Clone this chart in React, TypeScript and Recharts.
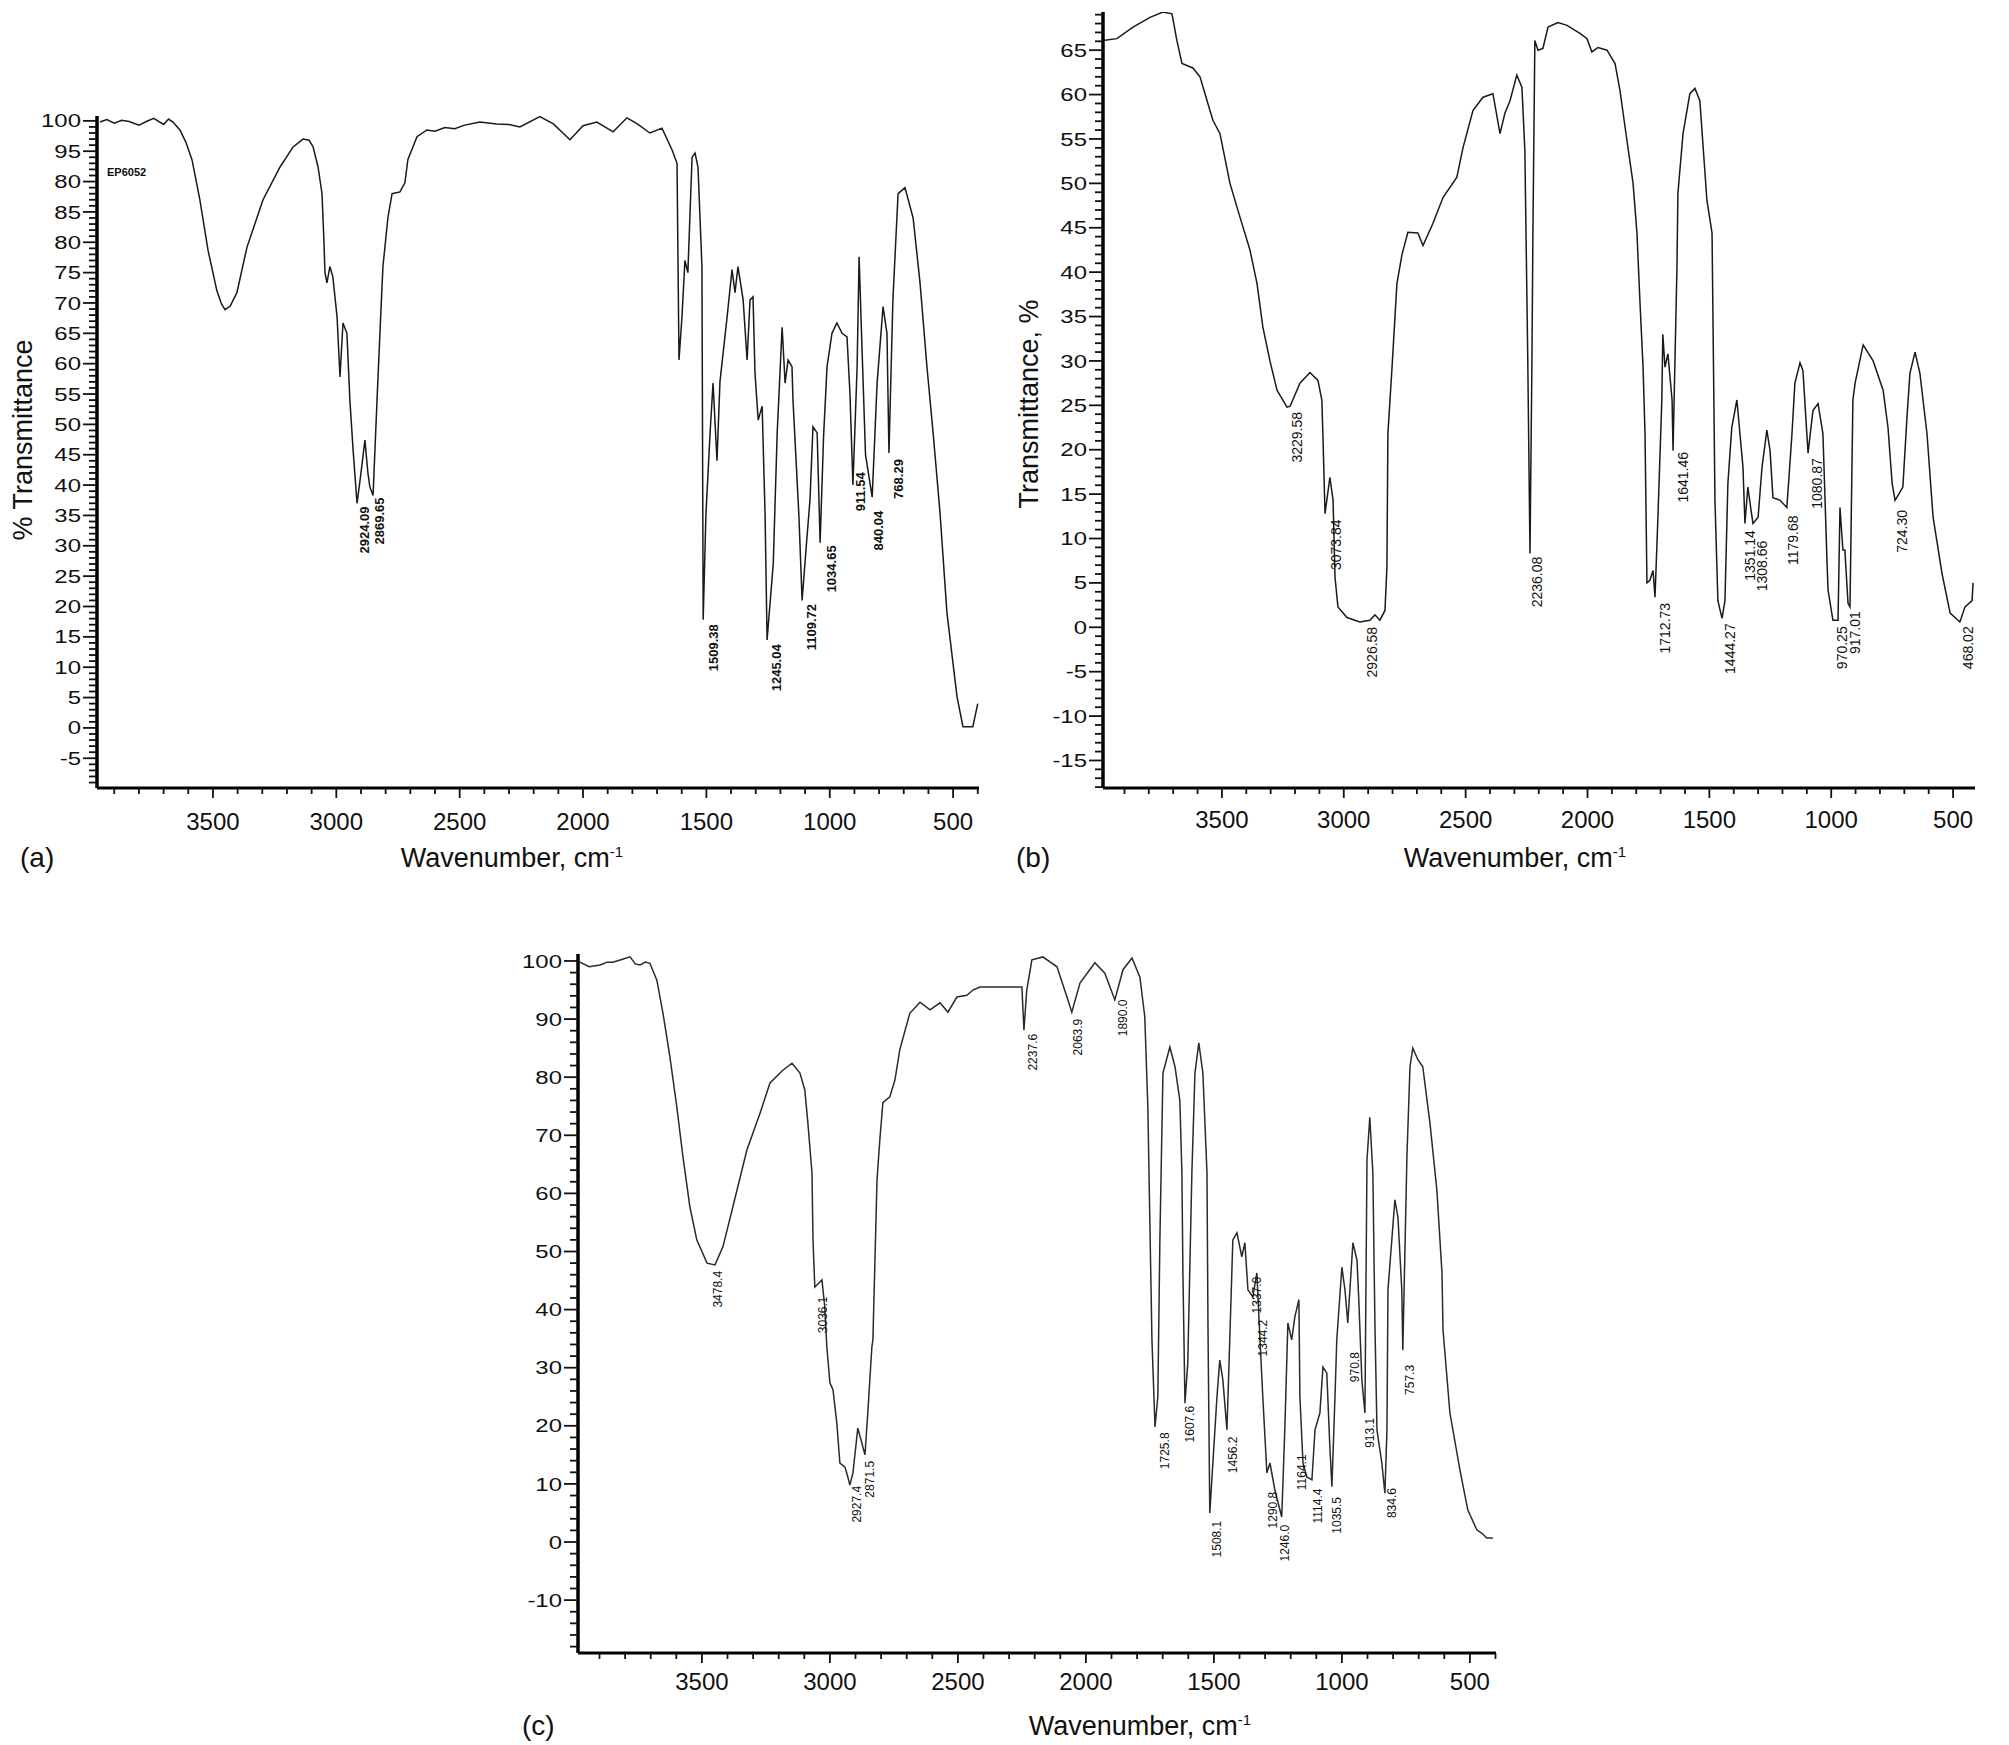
import { LineChart, Line, XAxis, YAxis, ReferenceDot } from "recharts"

const FONT = '"Liberation Sans", Arial, Helvetica, sans-serif'

type Pt = [number, number]
type Peak = { w: number; t: number; text: string }

// ---- panel (a) : wavenumber, % transmittance ----
const spectrumA: Pt[] = [
  [3958, 99.8], [3930, 100.2], [3900, 99.6], [3870, 100.1], [3840, 99.9], [3800, 99.3], [3770, 99.9],
  [3740, 100.4], [3700, 99.4], [3680, 100.3], [3662, 99.8], [3634, 98.5], [3610, 96.5], [3585, 93.6],
  [3553, 87], [3520, 78.7], [3484, 72], [3465, 69.8], [3451, 68.9], [3430, 69.5], [3403, 71.7],
  [3362, 79.2], [3297, 87], [3228, 92.4], [3175, 95.7], [3135, 97], [3110, 96.8], [3094, 95.7],
  [3074, 92.4], [3058, 88], [3050, 80], [3046, 75], [3038, 73.3], [3026, 76], [3014, 74.3],
  [2997, 67.7], [2985, 57.8], [2973, 66.7], [2957, 65], [2945, 54], [2932, 45.8], [2916, 37],
  [2900, 42], [2884, 47.4], [2872, 42], [2864, 39.7], [2851, 38.3], [2835, 54], [2820, 68],
  [2811, 76], [2791, 84], [2774, 88], [2742, 88.3], [2722, 89.8], [2710, 93.6], [2673, 97.4],
  [2633, 98.5], [2600, 98.3], [2560, 98.9], [2520, 98.7], [2480, 99.3], [2418, 99.8], [2350, 99.5],
  [2300, 99.4], [2256, 99], [2175, 100.7], [2120, 99.5], [2053, 96.9], [2000, 99.2], [1944, 99.8],
  [1878, 98.2], [1822, 100.5], [1780, 99.5], [1729, 98], [1680, 98.8], [1639, 95.2], [1619, 93],
  [1611, 60.6], [1599, 67.7], [1587, 77], [1575, 75], [1558, 94], [1546, 94.7], [1534, 92.4],
  [1518, 76], [1513, 17.8], [1502, 35], [1485, 48.6], [1473, 56.8], [1457, 44], [1445, 57],
  [1416, 67.7], [1396, 75.5], [1384, 71.7], [1372, 76], [1351, 70.5], [1335, 60.6], [1323, 70.5],
  [1311, 71], [1303, 58.5], [1290, 50.7], [1274, 53], [1262, 35], [1254, 14.5], [1229, 27],
  [1213, 48.6], [1193, 66], [1181, 56.8], [1169, 60.6], [1153, 59.5], [1149, 54], [1125, 35],
  [1112, 21], [1095, 30], [1080, 37.6], [1068, 49.6], [1051, 48.6], [1039, 30.5], [1025, 48],
  [1011, 59.5], [991, 65], [971, 66.7], [950, 65], [930, 64.4], [918, 55], [906, 40], [889, 59.5],
  [881, 77.6], [869, 62.3], [855, 45], [828, 38], [808, 56.8], [784, 69.4], [768, 65], [760, 45.3],
  [744, 70.5], [723, 88], [695, 89], [662, 84], [634, 73.3], [606, 59.5], [581, 48.6], [553, 35.4],
  [525, 19], [484, 5.1], [460, 0.2], [420, 0.2], [400, 4],
]

const peaksA: Peak[] = [
  { w: 2884, t: 32.6, text: "2924.09" },
  { w: 2823, t: 34.1, text: "2869.65" },
  { w: 1473, t: 13.2, text: "1509.38" },
  { w: 1214, t: 9.9, text: "1245.04" },
  { w: 1072, t: 16.6, text: "1109.72" },
  { w: 991, t: 26.2, text: "1034.65" },
  { w: 877, t: 38.9, text: "911.54" },
  { w: 804, t: 32.5, text: "840.04" },
  { w: 723, t: 41, text: "768.29" },
]

// y labels of panel (a) as printed (the third one reads "80")
const yMajorA = [100, 95, 90, 85, 80, 75, 70, 65, 60, 55, 50, 45, 40, 35, 30, 25, 20, 15, 10, 5, 0, -5]
const yTextA = ["100", "95", "80", "85", "80", "75", "70", "65", "60", "55", "50", "45", "40", "35", "30", "25", "20", "15", "10", "5", "0", "-5"]

// ---- panel (b) ----
const spectrumB: Pt[] = [
  [3988, 66.1], [3931, 66.3], [3865, 67.6], [3795, 68.7], [3742, 69.3], [3705, 69.1], [3685, 66.1],
  [3664, 63.5], [3619, 63], [3590, 62], [3561, 59.3], [3537, 57.1], [3508, 55.6], [3467, 50],
  [3426, 46.2], [3385, 42.5], [3356, 38.7], [3332, 33.8], [3303, 30], [3274, 26.7], [3233, 24.8],
  [3220, 24.9], [3180, 27.5], [3139, 28.7], [3106, 27.8], [3090, 25.6], [3085, 21], [3077, 12.8],
  [3057, 16.9], [3044, 14.3], [3036, 5.6], [3024, 2.3], [2987, 1.1], [2934, 0.6], [2893, 0.8],
  [2872, 1.4], [2852, 0.8], [2831, 1.9], [2823, 6.8], [2819, 21.8], [2802, 29.3], [2782, 38.7],
  [2761, 42], [2737, 44.5], [2696, 44.4], [2675, 43], [2634, 45.5], [2593, 48.4], [2536, 50.7],
  [2511, 54], [2470, 58.2], [2429, 59.7], [2388, 60.1], [2359, 55.6], [2339, 57.9], [2318, 59.3],
  [2290, 62.2], [2269, 60.8], [2257, 53.7], [2245, 30], [2236, 8.3], [2228, 30], [2224, 44.4],
  [2216, 66.1], [2203, 65], [2183, 65.2], [2162, 67.6], [2121, 68.1], [2084, 67.8], [2031, 66.9],
  [2002, 66.3], [1982, 64.8], [1957, 65.3], [1920, 65], [1887, 63.5], [1867, 60.5], [1838, 54.8],
  [1813, 50], [1797, 44.4], [1785, 36.8], [1772, 29.3], [1764, 21.8], [1756, 5], [1744, 5.3],
  [1731, 6.4], [1723, 3.4], [1711, 12.4], [1695, 25.6], [1691, 33], [1682, 29.3], [1670, 30.8],
  [1653, 25.6], [1649, 19.9], [1633, 40.5], [1629, 48.9], [1608, 55.6], [1580, 60.1], [1559, 60.7],
  [1539, 59.3], [1510, 48.1], [1489, 44.4], [1477, 14.3], [1465, 3], [1448, 1], [1436, 3],
  [1424, 16.2], [1408, 22.5], [1387, 25.6], [1362, 18], [1354, 11.7], [1342, 15.8], [1329, 13.2],
  [1321, 11.7], [1300, 12.4], [1284, 18], [1264, 22.2], [1251, 19.9], [1239, 14.6], [1210, 14.3],
  [1182, 13.5], [1161, 21.8], [1149, 27.5], [1128, 29.8], [1116, 28.9], [1100, 21.8], [1095, 19.6],
  [1075, 24.4], [1054, 25.2], [1034, 21.8], [1017, 7.2], [1013, 4.2], [993, 0.8], [972, 0.8],
  [964, 13.5], [952, 8.7], [944, 8.7], [931, 2.7], [923, 2.3], [911, 25.6], [902, 27.5], [869, 31.8],
  [828, 30], [787, 26.7], [767, 22.5], [750, 16.2], [738, 14.3], [706, 15.8], [689, 23.7], [677, 28.6],
  [656, 31], [636, 28.6], [607, 21.8], [582, 12.4], [545, 6], [512, 1.6], [472, 0.6], [451, 2.3],
  [422, 3], [418, 5],
]

const peaksB: Peak[] = [
  { w: 3192, t: 21.4, text: "3229.58" },
  { w: 3032, t: 9.3, text: "3073.84" },
  { w: 2885, t: -2.8, text: "2926.58" },
  { w: 2207, t: 5.1, text: "2236.08" },
  { w: 1682, t: -0.1, text: "1712.73" },
  { w: 1608, t: 16.9, text: "1641.46" },
  { w: 1415, t: -2.4, text: "1444.27" },
  { w: 1333, t: 8.1, text: "1351.14" },
  { w: 1284, t: 6.9, text: "1308.66" },
  { w: 1157, t: 9.8, text: "1179.68" },
  { w: 1058, t: 16.2, text: "1080.87" },
  { w: 956, t: -2.3, text: "970.25" },
  { w: 903, t: -0.6, text: "917.01" },
  { w: 710, t: 10.8, text: "724.30" },
  { w: 439, t: -2.3, text: "468.02" },
]

const yMajorB = [65, 60, 55, 50, 45, 40, 35, 30, 25, 20, 15, 10, 5, 0, -5, -10, -15]

// ---- panel (c) ----
const spectrumC: Pt[] = [
  [3977, 99.8], [3940, 99], [3898, 99.3], [3870, 99.8], [3848, 99.8], [3810, 100.3], [3781, 100.7],
  [3760, 99.5], [3742, 99.3], [3720, 99.8], [3703, 99.6], [3676, 96.7], [3652, 91], [3625, 83.5],
  [3598, 74.9], [3574, 66.3], [3547, 57.7], [3520, 52], [3480, 48], [3449, 47.7], [3418, 50.8],
  [3379, 57.7], [3324, 67.5], [3273, 73.8], [3234, 79], [3184, 81.2], [3148, 82.4], [3117, 80.7],
  [3098, 77.8], [3086, 72.1], [3070, 63.5], [3066, 52], [3059, 43.9], [3045, 44.5], [3031, 45.1],
  [3020, 40.4], [3012, 33.6], [3000, 27.4], [2988, 26.2], [2973, 20.5], [2961, 13.6], [2941, 12.9],
  [2930, 11.2], [2922, 9.8], [2910, 11.9], [2891, 19.6], [2875, 17], [2863, 15], [2852, 22.2],
  [2836, 33.6], [2832, 34.8], [2816, 62.3], [2805, 69.2], [2793, 75.6], [2766, 76.6], [2746, 79.5],
  [2727, 84.7], [2688, 91], [2648, 92.9], [2609, 91.6], [2570, 92.8], [2539, 91.2], [2504, 93.8],
  [2465, 94.1], [2441, 95], [2414, 95.5], [2336, 95.5], [2250, 95.5], [2242, 88.1], [2231, 95],
  [2211, 100.2], [2168, 100.7], [2113, 99], [2074, 93.8], [2055, 91.2], [2023, 96.2], [1965, 99.7],
  [1926, 97.9], [1887, 93.3], [1855, 98.5], [1820, 100.5], [1789, 97.2], [1770, 90.4], [1758, 74.9],
  [1742, 34.8], [1730, 19.8], [1719, 25], [1711, 52], [1699, 80.7], [1672, 85.2], [1652, 81.8],
  [1633, 76], [1625, 63.5], [1621, 46.3], [1613, 23.9], [1602, 30.8], [1586, 63.5], [1574, 80.7],
  [1559, 85.9], [1543, 80.7], [1527, 63.5], [1523, 36.5], [1516, 5], [1504, 13.6], [1488, 25],
  [1477, 31.3], [1465, 27.9], [1449, 19.3], [1438, 34.8], [1426, 52], [1410, 53.2], [1391, 49.1],
  [1379, 51.5], [1367, 43.4], [1348, 42.2], [1332, 46.3], [1320, 34.8], [1309, 25], [1293, 11.9],
  [1281, 13.6], [1262, 9], [1235, 4.3], [1223, 19.3], [1211, 37.7], [1196, 34.8], [1184, 38.7],
  [1168, 41.7], [1164, 25], [1152, 13.6], [1137, 11.2], [1117, 10.7], [1105, 19.3], [1086, 22.2],
  [1074, 30.1], [1059, 29.1], [1047, 16.4], [1039, 9.5], [1027, 25], [1020, 34.8], [1000, 47.3],
  [988, 43.4], [977, 37.7], [957, 51.5], [941, 48.5], [934, 41.7], [922, 27.9], [910, 22.2],
  [902, 65.7], [891, 73.1], [879, 63.5], [871, 37.7], [863, 19.3], [844, 13.6], [832, 8.4],
  [824, 19.3], [820, 43.4], [793, 58.9], [781, 55.9], [766, 43.4], [762, 33], [746, 66.3],
  [734, 81.8], [723, 85], [703, 83], [684, 81.8], [656, 72.1], [629, 60.6], [609, 46.3], [605, 36.5],
  [578, 22.2], [539, 12.4], [508, 5.5], [473, 2.1], [453, 1.5], [434, 0.7], [410, 0.7],
]

const peaksC: Peak[] = [
  { w: 3438, t: 43.5, text: "3478.4" },
  { w: 3027, t: 39.1, text: "3036.1" },
  { w: 2895, t: 6.5, text: "2927.4" },
  { w: 2844, t: 10.8, text: "2871.5" },
  { w: 2207, t: 84.3, text: "2237.6" },
  { w: 2031, t: 86.9, text: "2063.9" },
  { w: 1855, t: 90.2, text: "1890.0" },
  { w: 1691, t: 15.7, text: "1725.8" },
  { w: 1594, t: 20.3, text: "1607.6" },
  { w: 1488, t: 0.5, text: "1508.1" },
  { w: 1426, t: 15, text: "1456.2" },
  { w: 1332, t: 42.5, text: "1337.0" },
  { w: 1309, t: 35.1, text: "1344.2" },
  { w: 1270, t: 5.5, text: "1290.8" },
  { w: 1223, t: -0.2, text: "1246.0" },
  { w: 1156, t: 12, text: "1164.1" },
  { w: 1094, t: 6.2, text: "1114.4" },
  { w: 1020, t: 4.6, text: "1035.5" },
  { w: 949, t: 30.1, text: "970.8" },
  { w: 891, t: 18.8, text: "913.1" },
  { w: 805, t: 6.7, text: "834.6" },
  { w: 734, t: 27.9, text: "757.3" },
]

const yMajorC = [100, 90, 80, 70, 60, 50, 40, 30, 20, 10, 0, -10]

const xMajor = [3500, 3000, 2500, 2000, 1500, 1000, 500]

function steps(from: number, to: number, step: number) {
  const out: number[] = []
  for (let v = from; v <= to + 1e-9; v += step) out.push(Math.round(v * 10) / 10)
  return out
}

function XTick({ x, y, payload, baseline }: any) {
  const major = xMajor.includes(payload.value)
  return (
    <g>
      <line x1={x} x2={x} y1={y} y2={y + (major ? 10 : 6)} stroke="#111" strokeWidth={1.8} />
      {major && (
        <text x={x} y={y + baseline} textAnchor="middle" fontSize={24} fontFamily={FONT} fill="#111">
          {payload.value}
        </text>
      )}
    </g>
  )
}

function YTick({ x, y, payload, majors, texts }: any) {
  const idx = majors.indexOf(payload.value)
  const major = idx >= 0
  return (
    <g>
      <line x1={x - (major ? 14 : 8)} x2={x} y1={y} y2={y} stroke="#111" strokeWidth={1.8} />
      {major && (
        <text
          transform={`translate(${x - 16} ${y}) scale(1.26 1)`}
          textAnchor="end"
          dominantBaseline="central"
          fontSize={19}
          fontFamily={FONT}
          fill="#111"
        >
          {texts ? texts[idx] : payload.value}
        </text>
      )}
    </g>
  )
}

interface PanelProps {
  left: number
  top: number
  plotW: number
  plotH: number
  spectrum: Pt[]
  xDomain: [number, number]
  yDomain: [number, number]
  yStep: number
  yMajors: number[]
  yTexts?: string[]
  peaks: Peak[]
  peakFont: number
  peakWeight: number
  xBaseline: number
  topWidth: number
  rightWidth: number
  rightColor: string
  lineColor: string
}

function SpectrumPanel(p: PanelProps) {
  const yW = 80
  const mTop = 10
  const xH = 60
  const mRight = 12
  const rows = p.spectrum.map(([w, t]) => ({ w, t }))
  const xTicks = steps(Math.ceil(p.xDomain[0] / 100) * 100, p.xDomain[1], 100)
  const yTicks = steps(Math.ceil(p.yDomain[0] / p.yStep) * p.yStep, p.yDomain[1], p.yStep)
  return (
    <div style={{ position: "absolute", left: p.left - yW, top: p.top - mTop }}>
      <LineChart
        width={yW + p.plotW + mRight}
        height={mTop + p.plotH + xH}
        data={rows}
        margin={{ top: mTop, right: mRight, bottom: 0, left: 0 }}
      >
        <XAxis
          xAxisId="b"
          type="number"
          dataKey="w"
          domain={p.xDomain}
          reversed
          allowDataOverflow
          ticks={xTicks}
          interval={0}
          tickSize={0}
          tickMargin={0}
          tickLine={false}
          height={xH}
          axisLine={{ stroke: "#000", strokeWidth: 3 }}
          tick={(t: any) => <XTick {...t} baseline={p.xBaseline} />}
        />
        <XAxis
          xAxisId="t"
          orientation="top"
          type="number"
          dataKey="w"
          domain={p.xDomain}
          reversed
          allowDataOverflow
          height={0}
          tick={false}
          tickLine={false}
          axisLine={{ stroke: "#111", strokeWidth: p.topWidth }}
        />
        <YAxis
          yAxisId="l"
          type="number"
          domain={p.yDomain}
          allowDataOverflow
          ticks={yTicks}
          interval={0}
          tickSize={0}
          tickMargin={0}
          tickLine={false}
          width={yW}
          axisLine={{ stroke: "#000", strokeWidth: 3.5 }}
          tick={(t: any) => <YTick {...t} majors={p.yMajors} texts={p.yTexts} />}
        />
        <YAxis
          yAxisId="r"
          orientation="right"
          type="number"
          domain={p.yDomain}
          allowDataOverflow
          width={0}
          tick={false}
          tickLine={false}
          axisLine={{ stroke: p.rightColor, strokeWidth: p.rightWidth }}
        />
        <Line
          xAxisId="b"
          yAxisId="l"
          type="linear"
          dataKey="t"
          stroke={p.lineColor}
          strokeWidth={1.5}
          dot={false}
          isAnimationActive={false}
        />
        {p.peaks.map((pk) => (
          <ReferenceDot
            key={pk.text + pk.w}
            xAxisId="b"
            yAxisId="l"
            x={pk.w}
            y={pk.t}
            r={0}
            shape={(s: any) => (
              <text
                x={s.cx}
                y={s.cy}
                transform={`rotate(-90 ${s.cx} ${s.cy})`}
                textAnchor="middle"
                dominantBaseline="central"
                fontSize={p.peakFont}
                fontWeight={p.peakWeight}
                fontFamily={FONT}
                fill="#111"
              >
                {pk.text}
              </text>
            )}
          />
        ))}
      </LineChart>
    </div>
  )
}

const textBase: any = {
  position: "absolute",
  fontFamily: FONT,
  color: "#111",
  whiteSpace: "nowrap",
  lineHeight: 1,
}

function XTitle({ cx, cy }: { cx: number; cy: number }) {
  return (
    <div style={{ ...textBase, left: cx, top: cy, fontSize: 27, transform: "translate(-50%, -50%)" }}>
      Wavenumber, cm<sup style={{ fontSize: 15 }}>-1</sup>
    </div>
  )
}

export default function App() {
  return (
    <div style={{ position: "absolute", left: 0, top: 0, width: 2009, height: 1745, background: "#fff", overflow: "hidden" }}>
      <SpectrumPanel
        left={97}
        top={116}
        plotW={882}
        plotH={672}
        spectrum={spectrumA}
        xDomain={[395, 3970]}
        yDomain={[-9.9, 100.8]}
        yStep={1}
        yMajors={yMajorA}
        yTexts={yTextA}
        peaks={peaksA}
        peakFont={13}
        peakWeight={700}
        xBaseline={42}
        topWidth={2.5}
        rightWidth={1.5}
        rightColor="#444"
        lineColor="#1a1a1a"
      />
      <SpectrumPanel
        left={1103}
        top={12}
        plotW={872}
        plotH={776}
        spectrum={spectrumB}
        xDomain={[410, 3988]}
        yDomain={[-18.1, 69.3]}
        yStep={1}
        yMajors={yMajorB}
        peaks={peaksB}
        peakFont={14}
        peakWeight={400}
        xBaseline={40}
        topWidth={2.5}
        rightWidth={1}
        rightColor="#777"
        lineColor="#1a1a1a"
      />
      <SpectrumPanel
        left={578}
        top={954}
        plotW={918}
        plotH={699}
        spectrum={spectrumC}
        xDomain={[398, 3984]}
        yDomain={[-19.1, 101.2]}
        yStep={2}
        yMajors={yMajorC}
        peaks={peaksC}
        peakFont={12}
        peakWeight={400}
        xBaseline={37}
        topWidth={3}
        rightWidth={3}
        rightColor="#111"
        lineColor="#2a2a2a"
      />

      <div style={{ ...textBase, left: 107, top: 167, fontSize: 11, fontWeight: 700 }}>EP6052</div>

      <div style={{ ...textBase, left: 23, top: 440, fontSize: 27, transform: "translate(-50%, -50%) rotate(-90deg)" }}>
        % Transmittance
      </div>
      <div style={{ ...textBase, left: 1029, top: 404, fontSize: 27, transform: "translate(-50%, -50%) rotate(-90deg)" }}>
        Transmittance, %
      </div>

      <XTitle cx={512} cy={858} />
      <XTitle cx={1515} cy={858} />
      <XTitle cx={1140} cy={1726} />

      <div style={{ ...textBase, left: 20, top: 844, fontSize: 28 }}>(a)</div>
      <div style={{ ...textBase, left: 1016, top: 844, fontSize: 28 }}>(b)</div>
      <div style={{ ...textBase, left: 522, top: 1712, fontSize: 28 }}>(c)</div>
    </div>
  )
}
